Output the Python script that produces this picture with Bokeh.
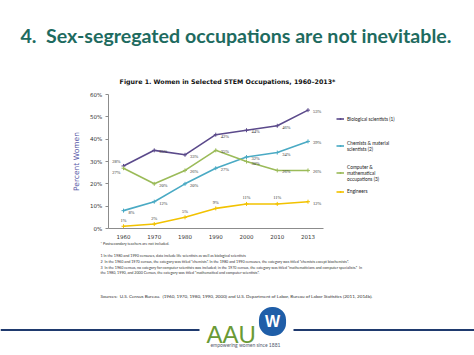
from bokeh.plotting import figure
from bokeh.models import (Range1d, Label, Legend, LegendItem, BoxAnnotation, LinearAxis,
                          PrintfTickFormatter, FixedTicker, ColumnDataSource, LabelSet)
from bokeh.embed import file_html
from bokeh.resources import INLINE

# ---------------- data ----------------
years = ["1960", "1970", "1980", "1990", "2000", "2010", "2013"]
bio = [28, 35, 33, 42, 44, 46, 53]
chem = [8, 12, 20, 27, 32, 34, 39]
comp = [27, 20, 26, 35, 30, 26, 26]
eng = [1, 2, 5, 9, 11, 11, 12]
series_names = ["Biological scientists (1)",
                "Chemists & material\nscientists (2)",
                "Computer &\nmathematical\noccupations (3)",
                "Engineers"]
y_ticks = [0, 10, 20, 30, 40, 50, 60]

title_text = "4.\u00a0 Sex-segregated occupations are not inevitable."
chart_title = "Figure 1. Women in Selected STEM Occupations, 1960\u20132013*"
y_label = "Percent Women"
notes = [
    "* Postsecondary teachers are not included.",
    "1 In the 1980 and 1990 censuses, data include life scientists as well as biological scientists",
    "2\u00a0 In the 1960 and 1970 census, the category was titled \u201cchemists\u201d. In the 1980 and 1990 censuses, the category was titled \u201cchemists except biochemists\u201d.",
    "3\u00a0 In the 1960 census, no category for computer scientists was included; in the 1970 census, the category was titled \u201cmathematicians and computer specialists.\u201d\u00a0 In",
    "the 1980, 1990, and 2000 Census, the category was titled \u201cmathematical and computer scientists\u201d.",
]
sources = ("Sources:\u00a0 U.S. Census Bureau.\u00a0 (1960, 1970, 1980, 1990, 2000) and U.S. Department of Labor, "
           "Bureau of Labor Statistics (2011, 2014b).")

# ---------------- layout (frame = whole canvas) ----------------
W, H = 474, 355
X0, XS = 123.0, 30.75          # pixel of first category, pixels per category
Y0, YT = 228.0, 94.0           # pixels of 0% and 60%
YS = (Y0 - YT) / 60.0

xpos = list(range(len(years)))


def sx(cx):
    return cx


def sy(cy):
    return H - cy


p = figure(width=W, height=H,
           x_range=Range1d(-X0 / XS, (W - X0) / XS),
           y_range=Range1d(-(H - Y0) / YS, 60 + YT / YS),
           output_backend="svg", toolbar_location=None, title=None,
           x_axis_location=None, y_axis_location=None,
           min_border=0, min_border_left=0, min_border_right=0,
           min_border_top=0, min_border_bottom=0)
p.outline_line_color = None
p.xgrid.visible = False
p.ygrid.visible = False
p.background_fill_color = "white"
p.border_fill_color = "white"

tick_font = "DejaVu Sans"
yax = LinearAxis(fixed_location=-0.5, bounds=(0, 60))
yax.ticker = FixedTicker(ticks=y_ticks)
yax.formatter = PrintfTickFormatter(format="%d%%")
yax.minor_tick_line_color = None
yax.major_tick_out = 3
yax.major_tick_in = 0
yax.axis_line_color = "#8c8c8c"
yax.major_tick_line_color = "#8c8c8c"
yax.major_label_text_font = tick_font
yax.major_label_text_font_size = "5.5px"
yax.major_label_text_color = "#333333"
yax.major_label_standoff = 3
yax.axis_label = y_label
yax.axis_label_text_font = tick_font
yax.axis_label_text_font_style = "normal"
yax.axis_label_text_font_size = "7.5px"
yax.axis_label_text_color = "#5a5aa8"
yax.axis_label_standoff = 6
p.add_layout(yax, "left")

xax = LinearAxis(fixed_location=0, bounds=(-0.5, len(years) - 0.5))
xax.ticker = FixedTicker(ticks=xpos)
xax.major_label_overrides = {i: y for i, y in zip(xpos, years)}
xax.axis_line_color = "#8c8c8c"
xax.major_tick_line_color = None
xax.major_tick_out = 0
xax.major_tick_in = 0
xax.minor_tick_line_color = None
xax.minor_tick_out = 0
xax.major_label_text_font = tick_font
xax.major_label_text_font_size = "5.5px"
xax.major_label_text_color = "#333333"
xax.major_label_standoff = 5
p.add_layout(xax, "below")

colors = ["#5b4a8b", "#4aaac4", "#9bbb59", "#f2c200"]
all_series = [bio, chem, comp, eng]
# label placement styles: (dx, dy, align)
right = (5, -1.5, "left")
left_up = (-3, 4, "right")
left_down = (-3, -4, "right")
above = (0, 6, "center")

legend_tops = [116, 140, 164.5, 188.5]
legend_lines = [1, 2, 3, 1]
line_h = 4.8 * 1.2

for i, (vals, col, name) in enumerate(zip(all_series, colors, series_names)):
    r_line = p.line(xpos, vals, line_color=col, line_width=1.6)
    r_pt = p.scatter(xpos, vals, marker="cross", size=4, line_color=col, line_width=1)
    places = []
    for j in range(len(years)):
        if i == 0 and j == 0:
            places.append(left_up)
        elif i == 2 and j == 0:
            places.append(left_down)
        elif i == 3 and j < len(years) - 1:
            places.append(above)
        else:
            places.append(right)
    src = ColumnDataSource(dict(
        x=xpos, y=vals, t=[f"{v}%" for v in vals],
        dx=[pl[0] for pl in places], dy=[pl[1] for pl in places],
        al=[pl[2] for pl in places]))
    ls = LabelSet(x="x", y="y", text="t", source=src, x_offset="dx", y_offset="dy",
                  text_align="al", text_baseline="middle", text_font_size="4.5px",
                  text_font="DejaVu Sans", text_color="#333333")
    p.add_layout(ls)

    top = legend_tops[i]
    bottom = top + legend_lines[i] * line_h
    lg = Legend(items=[LegendItem(label=name, renderers=[r_line, r_pt])],
                location=(sx(336), sy(bottom)), padding=0, margin=0,
                border_line_color=None, background_fill_alpha=0,
                glyph_width=8, glyph_height=5, label_height=5, label_standoff=3,
                label_text_font="Lato", label_text_font_size="4.8px",
                label_text_color="#1a1a1a", spacing=0)
    p.add_layout(lg, "center")

# ---------------- texts ----------------
p.add_layout(Label(x=sx(20), y=sy(35), x_units="screen", y_units="screen", text=title_text,
                   text_font="Lato", text_font_style="bold", text_font_size="19.6px",
                   text_color="#1e6b5f", text_baseline="middle"))
p.add_layout(Label(x=sx(227), y=sy(81), x_units="screen", y_units="screen", text=chart_title,
                   text_font="DejaVu Sans", text_font_style="bold", text_font_size="6.3px",
                   text_color="#111111", text_baseline="middle", text_align="center"))
note_ys = [243, 255, 261, 266.5, 272]
for t, yy in zip(notes, note_ys):
    p.add_layout(Label(x=sx(100), y=sy(yy), x_units="screen", y_units="screen", text=t,
                       text_font="Lato", text_font_size="3.7px", text_color="#333333",
                       text_baseline="middle"))
p.add_layout(Label(x=sx(100), y=sy(295), x_units="screen", y_units="screen", text=sources,
                   text_font="Lato", text_font_size="4.6px", text_color="#333333",
                   text_baseline="middle"))

# ---------------- logo ----------------
for lft, rgt in [(0, 199), (293, 474)]:
    p.add_layout(BoxAnnotation(left=sx(lft), right=sx(rgt), bottom=sy(330.5), top=sy(328.5),
                               left_units="screen", right_units="screen", bottom_units="screen",
                               top_units="screen", fill_color="#1f3a6e", fill_alpha=1,
                               line_color=None))
p.add_layout(Label(x=sx(206), y=sy(334), x_units="screen", y_units="screen", text="AAU",
                   text_font="Liberation Sans", text_font_size="24px", text_color="#6a9a35",
                   text_baseline="alphabetic"))
p.add_layout(Label(x=sx(272), y=sy(321), x_units="screen", y_units="screen", text="W",
                   text_font="Liberation Sans", text_font_style="bold", text_font_size="16px",
                   text_color="white", text_baseline="middle", text_align="center",
                   background_fill_color="#1f5ea8", border_radius=13, padding=6))
p.add_layout(Label(x=sx(245), y=sy(344), x_units="screen", y_units="screen",
                   text="empowering women since 1881",
                   text_font="Lato", text_font_size="5px", text_color="#555e70",
                   text_baseline="middle", text_align="center"))

open("out.html", "w").write(file_html(p, INLINE))
